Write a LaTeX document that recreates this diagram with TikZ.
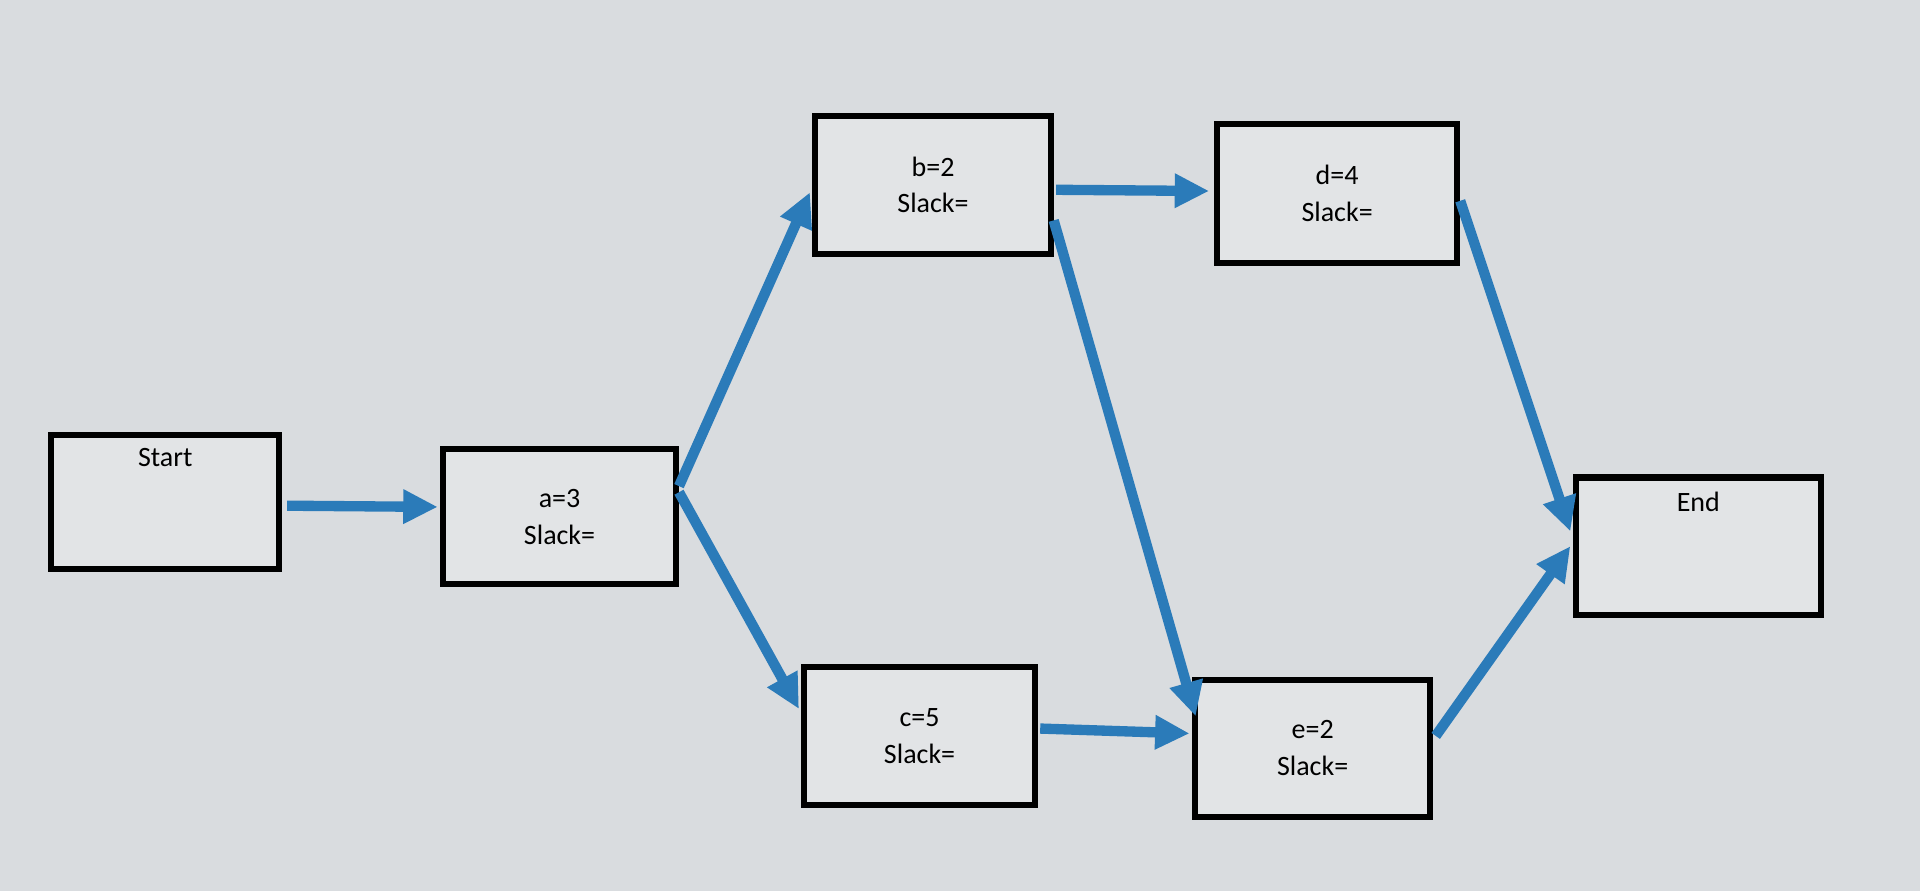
\documentclass[tikz,border=0pt]{standalone}
\usepackage{fontspec}
\setmainfont{Carlito}
\usetikzlibrary{arrows.meta,calc}
\definecolor{bg}{HTML}{D9DCDF}
\definecolor{boxbg}{HTML}{E2E4E6}
\definecolor{arr}{HTML}{2B7BB9}
\begin{document}
\begin{tikzpicture}[x=0.01cm,y=-0.01cm,
  box/.style={draw=black,line width=1.4pt,fill=boxbg,minimum width=1.88cm,minimum height=1.1cm,inner sep=0pt,align=center,font=\fontsize{6.5}{8.5}\selectfont},
  con/.style={draw=arr,line width=2.4pt,-{Triangle[length=8pt,width=7.5pt]}}]
\fill[bg] (0,0) rectangle (1568,728);
\useasboundingbox (0,0) rectangle (1568,728);
\node[box,minimum width=1.86cm] (s) at (135,410) {Start\\[12pt]};
\node[box,minimum width=1.9cm] (a) at (457,422) {a=3\\Slack=};
\node[box,minimum width=1.92cm,minimum height=1.13cm] (b) at (762,151) {b=2\\Slack=};
\node[box,minimum width=1.88cm,minimum height=1.12cm] (c) at (751,601) {c=5\\Slack=};
\node[box,minimum width=1.96cm,minimum height=1.13cm] (d) at (1092,158) {d=4\\Slack=};
\node[box,minimum width=1.92cm,minimum height=1.12cm] (e) at (1072,611) {e=2\\Slack=};
\node[box,minimum width=2.0cm,minimum height=1.12cm] (en) at (1387,446) {End\\[12pt]};
\draw[con] ($(s.east)+(4,3)$) -- ($(a.west)+(-2,-8)$);
\draw[con] ($(a.east)+(0,-25)$) -- ($(b.west)+(-2,6)$);
\draw[con] ($(a.east)+(0,-20)$) -- ($(c.west)+(-2,-22)$);
\draw[con] ($(b.east)+(2,4)$) -- ($(d.west)+(-4,-2)$);
\draw[con] ($(b.east)+(0,29)$) -- ($(e.west)+(3,-26)$);
\draw[con] ($(c.east)+(2,-6)$) -- ($(e.west)+(-2,-12)$);
\draw[con] ($(d.east)+(0,6)$) -- ($(en.west)+(-2,-12)$);
\draw[con] ($(e.east)+(2,-10)$) -- ($(en.west)+(-2,0)$);
\end{tikzpicture}
\end{document}
